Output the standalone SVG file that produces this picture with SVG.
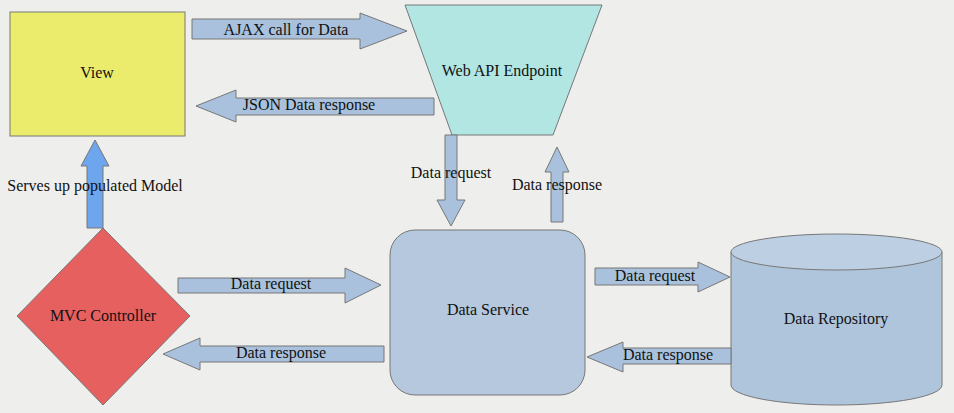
<svg xmlns="http://www.w3.org/2000/svg" width="954" height="413" viewBox="0 0 954 413" font-family="'Liberation Serif','Times New Roman','DejaVu Serif',serif">
<style>
text{font-family:'Liberation Serif','Times New Roman','DejaVu Serif',serif;font-size:16px;fill:#111;text-anchor:middle;dominant-baseline:middle}
.ar{fill:#a9c1dc;stroke:#777;stroke-width:1}
.nd{stroke:#777;stroke-width:1}
</style>
<rect width="954" height="413" fill="#eeeeec"/>
<g id="view"><rect class="nd" x="10" y="12" width="175" height="124" fill="#ecec6c"/><text x="97" y="74">View</text></g>
<g id="webapi"><polygon class="nd" points="405,5 602,5 553,135 452,135" fill="#b2e6e3"/><text x="502" y="72">Web API Endpoint</text></g>
<g id="controller"><polygon class="nd" points="103,228 190,316 103,405 17,316" fill="#e66060"/><text x="103" y="317">MVC Controller</text></g>
<g id="service"><rect class="nd" x="390" y="230" width="195" height="165" rx="25" fill="#b5c8dd"/><text x="488" y="311">Data Service</text></g>
<g id="repo">
<path class="nd" d="M731,252 V385 A105.5,20 0 0 0 942,385 V252" fill="#afc5dc"/>
<ellipse class="nd" cx="836.5" cy="252" rx="105.5" ry="18" fill="#bdd0e3"/>
<text x="836" y="320">Data Repository</text></g>
<g id="connectors">
<polygon class="ar" points="192,19 360,19 360,13 407,31 360,49 360,39 192,39"/>
<text x="286" y="31">AJAX call for Data</text>
<polygon class="ar" points="434,98 236,98 236,90 196,106 236,122 236,115 434,115"/>
<text x="309" y="106">JSON Data response</text>
<polygon class="ar" points="445,135 457,135 457,200 465,200 451,226 437,200 445,200"/>
<text x="451" y="174">Data request</text>
<polygon class="ar" points="551,222 563,222 563,172 569,172 557,147 545,172 551,172"/>
<text x="557" y="186">Data response</text>
<polygon fill="#6ea6ee" stroke="#777" points="87,228 103,228 103,166 109,166 95,140 81,166 87,166"/>
<text x="95" y="187">Serves up populated Model</text>
<polygon class="ar" points="178,278 345,278 345,268 381,285 345,303 345,293 178,293"/>
<text x="271" y="285">Data request</text>
<polygon class="ar" points="384,346 200,346 200,338 163,354 200,370 200,362 384,362"/>
<text x="281" y="354">Data response</text>
<polygon class="ar" points="595,268 698,268 698,262 730,277 698,292 698,285 595,285"/>
<text x="655" y="277">Data request</text>
<polygon class="ar" points="731,348 623,348 623,342 587,357 623,372 623,364 731,364"/>
<text x="668" y="356">Data response</text>
</g>
</svg>
